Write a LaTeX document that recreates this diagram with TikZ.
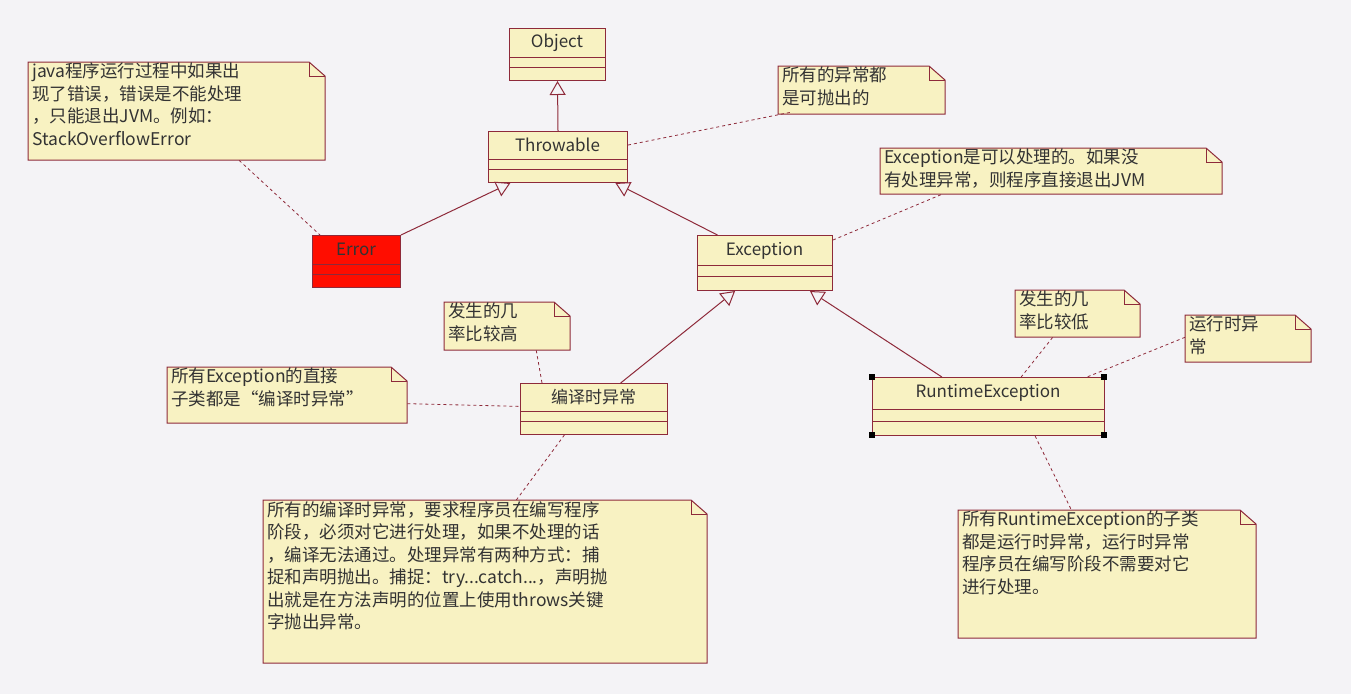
\documentclass[tikz,border=0pt]{standalone}
\usepackage{fontspec}
\setmainfont{Noto Sans CJK SC}
\usetikzlibrary{arrows.meta,calc}
\definecolor{bg}{HTML}{F4F3F6}
\definecolor{cls}{HTML}{F8F2C2}
\definecolor{bd}{HTML}{8E2A3A}
\definecolor{txt}{HTML}{333333}
\tikzset{
  box/.style={draw=bd,line width=1pt,inner sep=0pt},
  gen/.style={draw=bd,line width=1pt,-{Triangle[open,length=14pt,width=16pt]}},
  dline/.style={draw=bd,line width=0.8pt,dash pattern=on 3pt off 3pt},
  ntext/.style={anchor=north west,align=left,font=\fontsize{17.5}{22.5}\selectfont,text=txt,inner sep=0pt},
}
\newcommand\cls[7]{%
  \node[box,fill=#7,minimum width=#4pt-#2pt,minimum height=#5pt-#3pt,anchor=north west] (#1) at (#2,#3) {};
  \node[font=\fontsize{17}{19}\selectfont,text=txt] (#1t) at ($(#2,#3)!0.5!(#4,{#3+0.56*(#5-#3)})$) {#6};
  \draw[bd,line width=1pt] (#2,{#3+0.56*(#5-#3)}) -- (#4,{#3+0.56*(#5-#3)});
  \draw[bd,line width=1pt] (#2,{#3+0.76*(#5-#3)}) -- (#4,{#3+0.76*(#5-#3)});
}
\newcommand\note[6]{%
  \filldraw[fill=cls,draw=bd,line width=1pt] (#2,#3) -- ({#4-16},#3) -- (#4,{#3+14}) -- (#4,#5) -- (#2,#5) -- cycle;
  \draw[bd,line width=1pt] ({#4-16},#3) -- ({#4-16},{#3+14}) -- (#4,{#3+14});
  \node[minimum width=#4pt-#2pt,minimum height=#5pt-#3pt,anchor=north west,inner sep=0pt] (#1) at (#2,#3) {};
  \node[ntext] at ({#2+4},{#3+1}) {#6};
}
\begin{document}
\begin{tikzpicture}[x=1pt,y=-1pt]
\fill[bg] (0,0) rectangle (1351,694);
\useasboundingbox (0,0) rectangle (1351,694);
\cls{obj}{509}{28}{605}{80}{Object}{cls}
\cls{thr}{488}{131}{627}{182}{Throwable}{cls}
\cls{err}{312}{235}{400}{287}{Error}{red!90!orange}
\cls{exc}{697}{235}{832}{290}{Exception}{cls}
\cls{cmp}{520}{383}{667}{434}{编译时异常}{cls}
\cls{rte}{872}{377}{1104}{435}{RuntimeException}{cls}
\foreach \p in {(872,377),(1104,377),(872,435),(1104,435)} \fill[black] \p ++(-3,-3) rectangle ++(6,6);

\note{n1}{28}{62}{325}{160}{java程序运行过程中如果出\\现了错误，错误是不能处理\\，只能退出JVM。例如：\\StackOverflowError}
\note{n2}{778}{66}{945}{114}{所有的异常都\\是可抛出的}
\note{n3}{880}{148}{1222}{194}{Exception是可以处理的。如果没\\有处理异常，则程序直接退出JVM}
\note{n4}{444}{302}{570}{350}{发生的几\\率比较高}
\note{n5}{167}{367}{407}{423}{所有Exception的直接\\子类都是“编译时异常”}
\note{n6}{263}{500}{707}{663}{所有的编译时异常，要求程序员在编写程序\\阶段，必须对它进行处理，如果不处理的话\\，编译无法通过。处理异常有两种方式：捕\\捉和声明抛出。捕捉：try...catch...，声明抛\\出就是在方法声明的位置上使用throws关键\\字抛出异常。}
\note{n7}{1015}{290}{1140}{337}{发生的几\\率比较低}
\note{n8}{1185}{315}{1311}{362}{运行时异\\常}
\note{n9}{958}{510}{1256}{638}{所有RuntimeException的子类\\都是运行时异常，运行时异常\\程序员在编写阶段不需要对它\\进行处理。}

\draw[gen] (thr.north) -- (obj.south);
\draw[gen] (err.north east) -- ($(thr.south west)!0.16!(thr.south east)$);
\draw[gen] ($(exc.north west)!0.15!(exc.north east)$) -- ($(thr.south west)!0.91!(thr.south east)$);
\draw[gen] ($(cmp.north west)!0.68!(cmp.north east)$) -- ($(exc.south west)!0.28!(exc.south east)$);
\draw[gen] ($(rte.north west)!0.3!(rte.north east)$) -- ($(exc.south west)!0.83!(exc.south east)$);

\draw[dline] ($(n1.south west)!0.71!(n1.south east)$) -- ($(err.north west)+(8,0)$);
\draw[dline] ($(thr.north east)!0.27!(thr.south east)$) -- ($(n2.south west)+(12,-2)$);
\draw[dline] ($(exc.north east)+(0,5)$) -- ($(n3.south west)!0.18!(n3.south east)$);
\draw[dline] ($(n4.south west)!0.73!(n4.south east)$) -- ($(cmp.north west)+(22,0)$);
\draw[dline] ($(n5.north east)!0.65!(n5.south east)$) -- ($(cmp.north west)!0.45!(cmp.south west)$);
\draw[dline] ($(n6.north west)!0.57!(n6.north east)$) -- ($(cmp.south west)!0.3!(cmp.south east)$);
\draw[dline] ($(n7.south west)!0.3!(n7.south east)$) -- ($(rte.north west)!0.64!(rte.north east)$);
\draw[dline] ($(n8.north west)!0.47!(n8.south west)$) -- ($(rte.north east)+(-18,0)$);
\draw[dline] ($(rte.south west)!0.7!(rte.south east)$) -- ($(n9.north west)!0.38!(n9.north east)$);
\end{tikzpicture}
\end{document}
